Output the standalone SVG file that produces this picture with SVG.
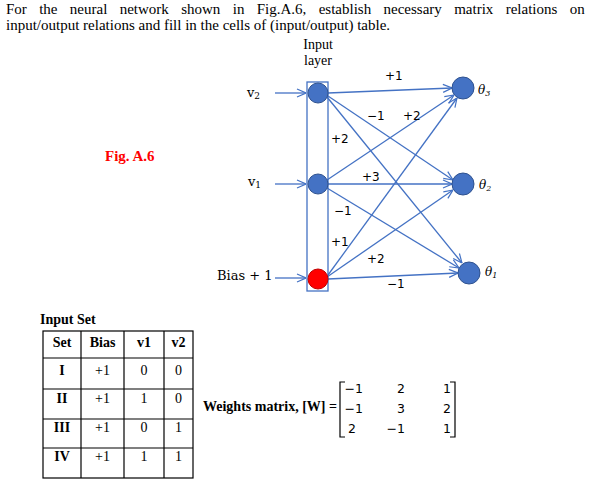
<svg xmlns="http://www.w3.org/2000/svg" width="599" height="489" viewBox="0 0 599 489">
<defs>
<marker id="ah" viewBox="0 0 10 10" refX="10" refY="5" markerWidth="10" markerHeight="10" markerUnits="userSpaceOnUse" orient="auto">
<path d="M1,1 L10,5 L1,9" fill="none" stroke="#4472C4" stroke-width="1.2"/>
</marker>
<style>
.t{font-family:"Liberation Serif",serif;font-size:15px;fill:#000}
.tb{font-family:"Liberation Serif",serif;font-size:14px;font-weight:bold;fill:#000}
.tc{font-family:"Liberation Serif",serif;font-size:14px;fill:#000;text-anchor:middle}
.w{font-family:"DejaVu Sans",sans-serif;font-size:12px;fill:#000}
.lb{font-family:"DejaVu Serif",serif;font-size:13px;fill:#000}
.e{stroke:#4472C4;stroke-width:1.3;fill:none}
.n{fill:#4472C4;stroke:#2F528F;stroke-width:1}
.g{stroke:#000;stroke-width:1.2;fill:none}
.m{font-family:"DejaVu Sans",sans-serif;font-size:12.5px;fill:#000;text-anchor:end}
</style>
</defs>
<rect width="599" height="489" fill="#fff"/>
<text class="t" x="6" y="14" word-spacing="8.6">For the neural network shown in Fig.A.6, establish necessary matrix relations on</text>
<text class="t" x="6" y="30">input/output relations and fill in the cells of (input/output) table.</text>
<text class="tc" x="318" y="49">Input</text>
<text class="tc" x="318" y="65">layer</text>
<text x="105" y="161" style="font-family:'Liberation Serif',serif;font-size:15px;font-weight:bold;fill:#FF0000">Fig. A.6</text>

<g id="connectors">
<line class="e" x1="275" y1="93" x2="306" y2="93" marker-end="url(#ah)"/>
<line class="e" x1="275" y1="184" x2="306" y2="184" marker-end="url(#ah)"/>
<line class="e" x1="275" y1="278" x2="306" y2="278" marker-end="url(#ah)"/>
<line class="e" x1="328" y1="93" x2="452" y2="88" marker-end="url(#ah)"/>
<line class="e" x1="328" y1="96" x2="453" y2="180" marker-end="url(#ah)"/>
<line class="e" x1="327" y1="97" x2="462" y2="263" marker-end="url(#ah)"/>
<line class="e" x1="327" y1="180" x2="454" y2="95" marker-end="url(#ah)"/>
<line class="e" x1="328" y1="184" x2="452" y2="184" marker-end="url(#ah)"/>
<line class="e" x1="327" y1="188" x2="459" y2="268" marker-end="url(#ah)"/>
<line class="e" x1="328" y1="275" x2="457" y2="98" marker-end="url(#ah)"/>
<line class="e" x1="327" y1="277" x2="453" y2="190" marker-end="url(#ah)"/>
<line class="e" x1="328" y1="279" x2="458" y2="273" marker-end="url(#ah)"/>
</g>

<g id="input-layer">
<rect x="307" y="82" width="21" height="209" fill="none" stroke="#4472C4" stroke-width="1.3"/>
</g>
<g id="v2">
<circle class="n" cx="318" cy="93" r="10"/>
<text class="lb" x="247" y="97">v<tspan font-size="9" dy="2">2</tspan></text>
</g>
<g id="v1">
<circle class="n" cx="318" cy="184" r="10"/>
<text class="lb" x="248" y="186">v<tspan font-size="9" dy="2">1</tspan></text>
</g>
<g id="bias">
<circle cx="318" cy="279" r="10" fill="#FF0000" stroke="#C00000" stroke-width="1"/>
<text class="lb" x="217" y="280">Bias + 1</text>
</g>
<g id="theta3">
<circle class="n" cx="463" cy="88" r="11"/>
<text x="478" y="94" style="font-family:'DejaVu Serif',serif;font-style:italic;font-size:12px">θ<tspan font-size="8" dy="2">3</tspan></text>
</g>
<g id="theta2">
<circle class="n" cx="463" cy="184" r="11"/>
<text x="479" y="189" style="font-family:'DejaVu Serif',serif;font-style:italic;font-size:12px">θ<tspan font-size="8" dy="2">2</tspan></text>
</g>
<g id="theta1">
<circle class="n" cx="469" cy="273" r="11"/>
<text x="485" y="276" style="font-family:'DejaVu Serif',serif;font-style:italic;font-size:12px">θ<tspan font-size="8" dy="2">1</tspan></text>
</g>

<g id="weights">
<text class="w" x="385" y="80">+1</text>
<text class="w" x="367" y="120">−1</text>
<text class="w" x="403" y="120">+2</text>
<text class="w" x="331" y="143">+2</text>
<text class="w" x="362" y="181">+3</text>
<text class="w" x="334" y="215">−1</text>
<text class="w" x="331" y="246">+1</text>
<text class="w" x="367" y="263">+2</text>
<text class="w" x="387" y="288">−1</text>
</g>

<g id="input-table">
<text class="tb" x="40" y="324">Input Set</text>
<rect class="g" x="43" y="331" width="150" height="147"/>
<line class="g" x1="81" y1="331" x2="81" y2="478"/>
<line class="g" x1="124" y1="331" x2="124" y2="478"/>
<line class="g" x1="164" y1="331" x2="164" y2="478"/>
<line class="g" x1="43" y1="358" x2="193" y2="358"/>
<line class="g" x1="43" y1="389" x2="193" y2="389"/>
<line class="g" x1="43" y1="419" x2="193" y2="419"/>
<line class="g" x1="43" y1="448" x2="193" y2="448"/>
<text class="tb" x="62" y="347" text-anchor="middle">Set</text>
<text class="tb" x="102.5" y="347" text-anchor="middle">Bias</text>
<text class="tb" x="144" y="347" text-anchor="middle" font-size="11">v1</text>
<text class="tb" x="178.5" y="347" text-anchor="middle" font-size="11">v2</text>
<text class="tb" x="62" y="375" text-anchor="middle">I</text>
<text class="tc" x="102.5" y="375">+1</text>
<text class="tc" x="144" y="375">0</text>
<text class="tc" x="178.5" y="375">0</text>
<text class="tb" x="62" y="403" text-anchor="middle">II</text>
<text class="tc" x="102.5" y="403">+1</text>
<text class="tc" x="144" y="403">1</text>
<text class="tc" x="178.5" y="403">0</text>
<text class="tb" x="62" y="432" text-anchor="middle">III</text>
<text class="tc" x="102.5" y="432">+1</text>
<text class="tc" x="144" y="432">0</text>
<text class="tc" x="178.5" y="432">1</text>
<text class="tb" x="62" y="461" text-anchor="middle">IV</text>
<text class="tc" x="102.5" y="461">+1</text>
<text class="tc" x="144" y="461">1</text>
<text class="tc" x="178.5" y="461">1</text>
</g>

<g id="weights-matrix">
<text class="tb" x="337" y="411" text-anchor="end">Weights matrix, [W] =</text>
<path class="g" d="M345,382 L340,382 L340,437 L345,437" stroke-width="1.3"/>
<path class="g" d="M450,382 L455,382 L455,437 L450,437" stroke-width="1.3"/>
<text class="m" x="363" y="393">−1</text>
<text class="m" x="405" y="393">2</text>
<text class="m" x="451" y="393">1</text>
<text class="m" x="363" y="413">−1</text>
<text class="m" x="405" y="413">3</text>
<text class="m" x="451" y="413">2</text>
<text class="m" x="356" y="433">2</text>
<text class="m" x="405" y="433">−1</text>
<text class="m" x="451" y="433">1</text>
</g>
</svg>
